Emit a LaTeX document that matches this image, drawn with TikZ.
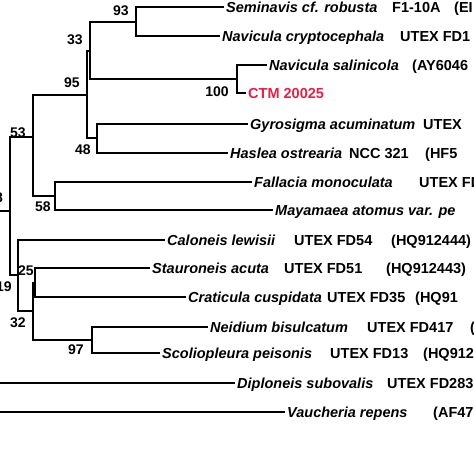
\documentclass[tikz,border=0pt]{standalone}
\usepackage{fontspec}
\setmainfont{Liberation Sans}
\definecolor{ctmred}{RGB}{232,30,70}
\newcommand{\tcol}[2]{\makebox[#1pt][l]{#2}}

\begin{document}
\begin{tikzpicture}[
    x=1pt, y=-1pt,
    branch/.style={draw=black, line width=2.6pt},
    leaf/.style={anchor=west, inner xsep=2pt, inner ysep=0pt, text height=13pt, text depth=2.2pt, font=\fontsize{14.5}{17}\selectfont\bfseries},
    own/.style={leaf, text=ctmred},
    bs/.style={inner sep=0pt, font=\fontsize{14}{16}\selectfont\bfseries}
]
\useasboundingbox (0,0) rectangle (474,474);

% inner nodes of the tree
\coordinate (n93)   at (136,22);
\coordinate (n100)  at (237,79);
\coordinate (n33)   at (90,51);
\coordinate (n48)   at (97,138);
\coordinate (n95)   at (87,95);
\coordinate (n58)   at (55,196);
\coordinate (n53)   at (33,137);
\coordinate (n25)   at (35,283);
\coordinate (n97)   at (92,340);
\coordinate (n32)   at (33,311);
\coordinate (ncal)  at (18,275);
\coordinate (nbase) at (10,211);
\coordinate (root)  at (-12,300);

% taxa
\node[leaf] (semi)  at (224,7)   {\tcol{166}{\itshape Seminavis cf. robusta}\tcol{62}{F1-10A}(EI};
\node[leaf] (crypt) at (220,36)  {\tcol{178}{\itshape Navicula cryptocephala}UTEX FD1};
\node[leaf] (sal)   at (267,65)  {\tcol{143}{\itshape Navicula salinicola}(AY6046};
\node[own]  (ctm)   at (246,93)  {CTM 20025};
\node[leaf] (gyro)  at (248,124) {\tcol{173}{\itshape Gyrosigma acuminatum}UTEX};
\node[leaf] (has)   at (228,153) {\tcol{119}{\itshape Haslea ostrearia}\tcol{76}{NCC 321}(HF5};
\node[leaf] (fal)   at (252,182) {\tcol{165}{\itshape Fallacia monoculata}UTEX FD};
\node[leaf] (may)   at (273,210) {\itshape Mayamaea atomus var. pe};
\node[leaf] (cal)   at (165,240) {\tcol{127}{\itshape Caloneis lewisii}\tcol{97}{UTEX FD54}(HQ912444)};
\node[leaf] (sta)   at (150,268) {\tcol{132}{\itshape Stauroneis acuta}\tcol{102}{UTEX FD51}(HQ912443)};
\node[leaf] (cra)   at (186,297) {\tcol{139}{\itshape Craticula cuspidata}\tcol{88}{UTEX FD35}(HQ91};
\node[leaf] (nei)   at (208,327) {\tcol{157}{\itshape Neidium bisulcatum}\tcol{103}{UTEX FD417}(};
\node[leaf] (sco)   at (160,353) {\tcol{168}{\itshape Scoliopleura peisonis}\tcol{93}{UTEX FD13}(HQ912};
\node[leaf] (dip)   at (235,383) {\tcol{150}{\itshape Diploneis subovalis}UTEX FD283};
\node[leaf] (vau)   at (285,412) {\tcol{146}{\itshape Vaucheria repens}(AF47};

% branches
\draw[branch] (n93) |- (semi.west);
\draw[branch] (n93) |- (crypt.west);
\draw[branch] (n100) |- (sal.west);
\draw[branch] (n100) |- (ctm.west);
\draw[branch] (n33) |- (n93);
\draw[branch] (n33) |- (n100);
\draw[branch] (n48) |- (gyro.west);
\draw[branch] (n48) |- (has.west);
\draw[branch] (n95) |- (n33);
\draw[branch] (n95) |- (n48);
\draw[branch] (n58) |- (fal.west);
\draw[branch] (n58) |- (may.west);
\draw[branch] (n53) |- (n95);
\draw[branch] (n53) |- (n58);
\draw[branch] (n25) |- (sta.west);
\draw[branch] (n25) |- (cra.west);
\draw[branch] (n97) |- (nei.west);
\draw[branch] (n97) |- (sco.west);
\draw[branch] (n32) |- (n25);
\draw[branch] (n32) |- (n97);
\draw[branch] (ncal) |- (cal.west);
\draw[branch] (ncal) |- (n32);
\draw[branch] (nbase) |- (n53);
\draw[branch] (nbase) |- (ncal);
\draw[branch] (root) |- (nbase);
\draw[branch] (root) |- (dip.west);
\draw[branch] (root) |- (vau.west);

% bootstrap values
\node[bs] (b93)   at (121,11)  {93};
\node[bs] (b33)   at (75,40)   {33};
\node[bs] (b95)   at (72,83)   {95};
\node[bs] (b100)  at (217,92)  {100};
\node[bs] (b48)   at (83,150)  {48};
\node[bs] (b53)   at (18,133)  {53};
\node[bs] (b58)   at (43,207)  {58};
\node[bs] (bbase) at (-1,198)  {8};
\node[bs] (b25)   at (26,271)  {25};
\node[bs] (b19)   at (4,287)   {19};
\node[bs] (b32)   at (18,323)  {32};
\node[bs] (b97)   at (76,350)  {97};
\end{tikzpicture}
\end{document}
